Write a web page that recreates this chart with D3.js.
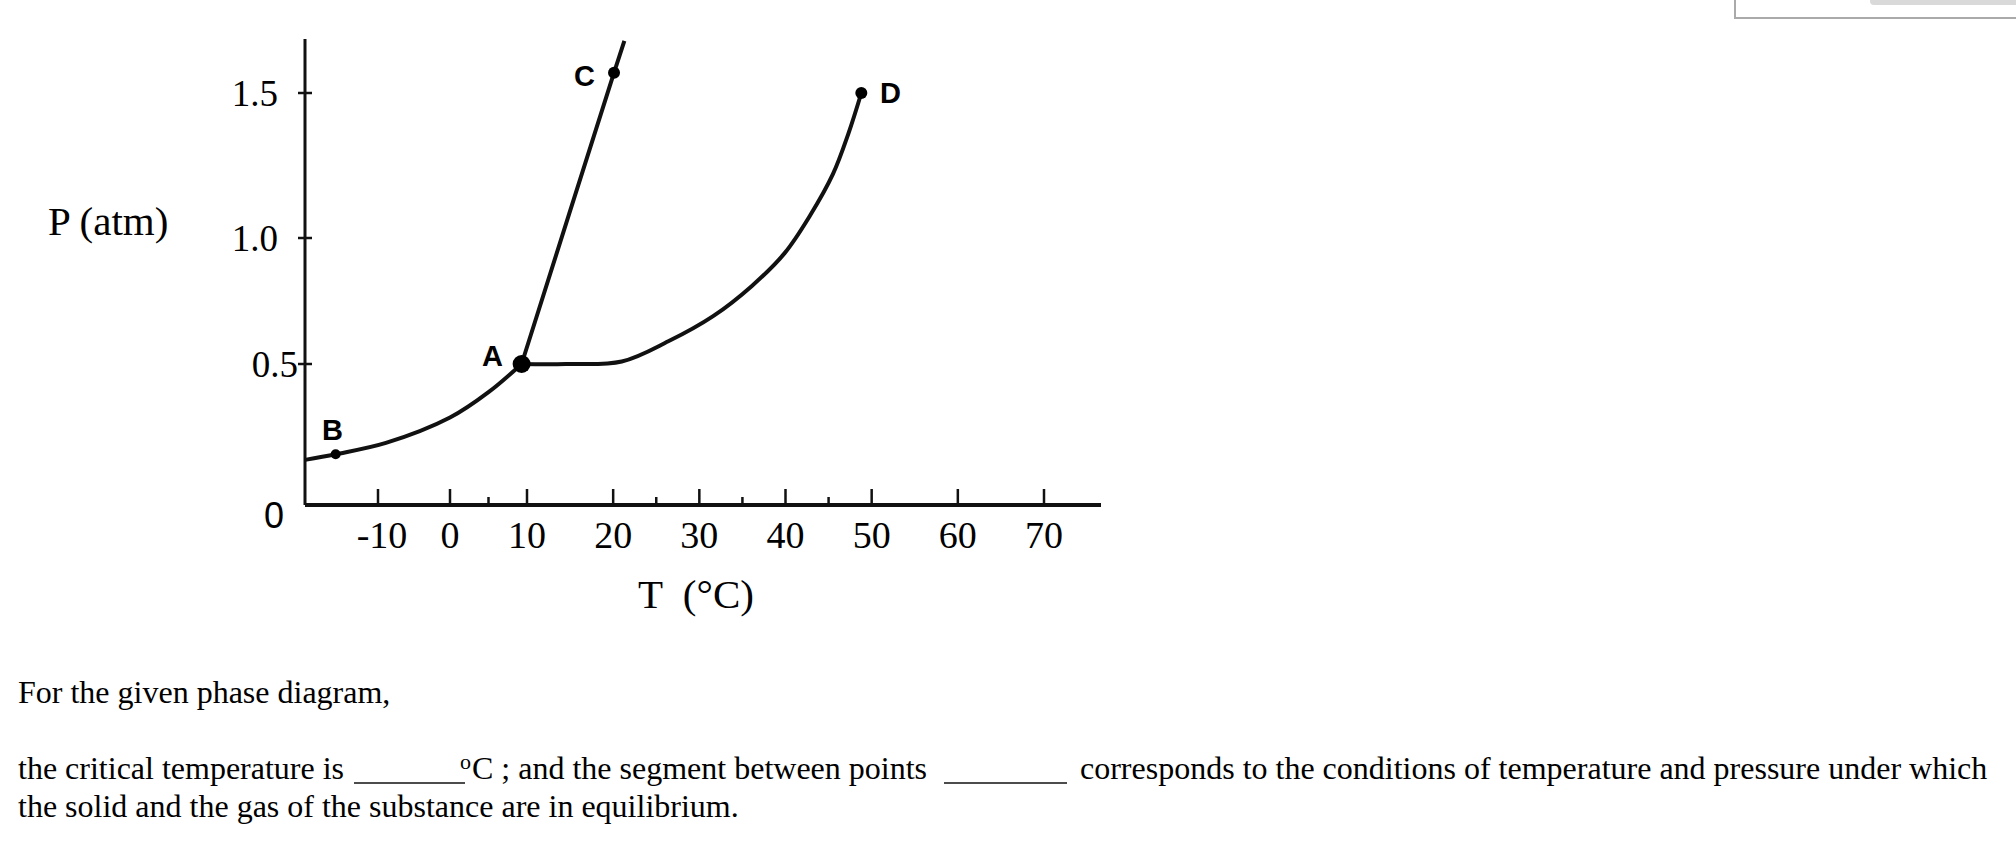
<!DOCTYPE html>
<html><head><meta charset="utf-8">
<script src="https://cdn.jsdelivr.net/npm/d3@7"></script>
<style>body{margin:0;background:#fff}svg{display:block}</style>
</head><body><svg id="c" width="2016" height="842"></svg>
<script>
const xTicks = [-10,0,10,20,30,40,50,60,70];
const xMinor = [5,25,35,45];
const yTicks = [0.5,1.0,1.5];
const yTickLabels = ["0.5","1.0","1.5"];
const curveBA = [[-20,0.16],[-15.8,0.18],[-8.9,0.22],[0,0.31],[5.0,0.40],[9.3,0.50]];
const curveAD = [[9.3,0.50],[14.5,0.50],[21.0,0.51],[26.4,0.59],[31.6,0.69],[36.1,0.81],[39.9,0.94],[42.8,1.075],[45.5,1.22],[47.3,1.36],[48.8,1.50]];
const lineAC = [[9.3,0.50],[20.1,1.57],[21.3,1.68]];
const points = [{n:"A",t:9.3,p:0.50,r:9},{n:"B",t:-15.8,p:0.18,r:5},{n:"C",t:20.1,p:1.57,r:6},{n:"D",t:48.8,p:1.50,r:6}];

const svg = d3.select("#c");
const x = d3.scaleLinear().domain([-20,-10,0,10,70,76.6]).range([305,378,450,527,1044,1101]);
const y = d3.scaleLinear().domain([0,0.5,1.0,1.5]).range([505,364,238,93]);
const serif = "'Liberation Serif','Times New Roman',serif";
const sans = "'Liberation Sans',Arial,sans-serif";

svg.append("line").attr("x1",305).attr("x2",305).attr("y1",39).attr("y2",505).attr("stroke","#111").attr("stroke-width",3);
svg.append("line").attr("x1",305).attr("x2",1101).attr("y1",505).attr("y2",505).attr("stroke","#111").attr("stroke-width",4);
xTicks.forEach(t=>svg.append("line").attr("x1",x(t)).attr("x2",x(t)).attr("y1",505).attr("y2",489).attr("stroke","#111").attr("stroke-width",2.5));
xMinor.forEach(t=>svg.append("line").attr("x1",x(t)).attr("x2",x(t)).attr("y1",505).attr("y2",497).attr("stroke","#111").attr("stroke-width",2.5));
svg.selectAll(".xl").data(xTicks).join("text").attr("x",d=>x(d)+(d<0?4:0)).attr("y",548).attr("text-anchor","middle")
  .attr("font-family",serif).attr("font-size",38).text(d=>d);
yTicks.forEach((t,i)=>{
  svg.append("line").attr("x1",298).attr("x2",312).attr("y1",y(t)).attr("y2",y(t)).attr("stroke","#111").attr("stroke-width",2.5);
  svg.append("text").attr("x",i==0?298:278).attr("y",y(t)+13).attr("text-anchor","end").attr("font-family",serif).attr("font-size",37).text(yTickLabels[i]);
});
svg.append("text").attr("x",284).attr("y",528).attr("text-anchor","end").attr("font-family",sans).attr("font-size",36).text("0");
svg.append("text").attr("x",48).attr("y",235).attr("font-family",serif).attr("font-size",41).text("P (atm)");
svg.append("text").attr("x",696).attr("y",608).attr("text-anchor","middle").attr("font-family",serif).attr("font-size",41).attr("xml:space","preserve").text("T  (°C)");

const line = d3.line().x(d=>x(d[0])).y(d=>y(d[1])).curve(d3.curveCatmullRom);
[curveBA,curveAD,lineAC].forEach(c=>svg.append("path").attr("d",line(c)).attr("fill","none").attr("stroke","#111").attr("stroke-width",4));
points.forEach(p=>svg.append("circle").attr("cx",x(p.t)).attr("cy",y(p.p)).attr("r",p.r).attr("fill","#000"));
const lab = {A:[482,366],B:[322,440],C:[574,86],D:[880,103]};
points.forEach(p=>svg.append("text").attr("x",lab[p.n][0]).attr("y",lab[p.n][1]).attr("font-family",sans).attr("font-weight","bold").attr("font-size",29).text(p.n));

const tf = (s,xx,yy)=>svg.append("text").attr("x",xx).attr("y",yy).attr("font-family",serif).attr("font-size",32).text(s);
tf("For the given phase diagram,",18,703);
tf("the critical temperature is",18,779);
svg.append("line").attr("x1",354).attr("x2",465).attr("y1",783).attr("y2",783).attr("stroke","#111").attr("stroke-width",1.5);
svg.append("text").attr("x",460).attr("y",769).attr("font-family",serif).attr("font-size",22).text("o");
tf("C ; and the segment between points",472,779);
svg.append("line").attr("x1",944).attr("x2",1067).attr("y1",783).attr("y2",783).attr("stroke","#111").attr("stroke-width",1.5);
tf("corresponds to the conditions of temperature and pressure under which",1080,779);
tf("the solid and the gas of the substance are in equilibrium.",18,817);

svg.append("rect").attr("x",1735).attr("y",-5).attr("width",290).attr("height",23).attr("fill","none").attr("stroke","#aaa").attr("stroke-width",2);
svg.append("rect").attr("x",1870).attr("y",-5).attr("width",150).attr("height",10).attr("rx",4).attr("fill","#d9d9d9");
</script></body></html>
